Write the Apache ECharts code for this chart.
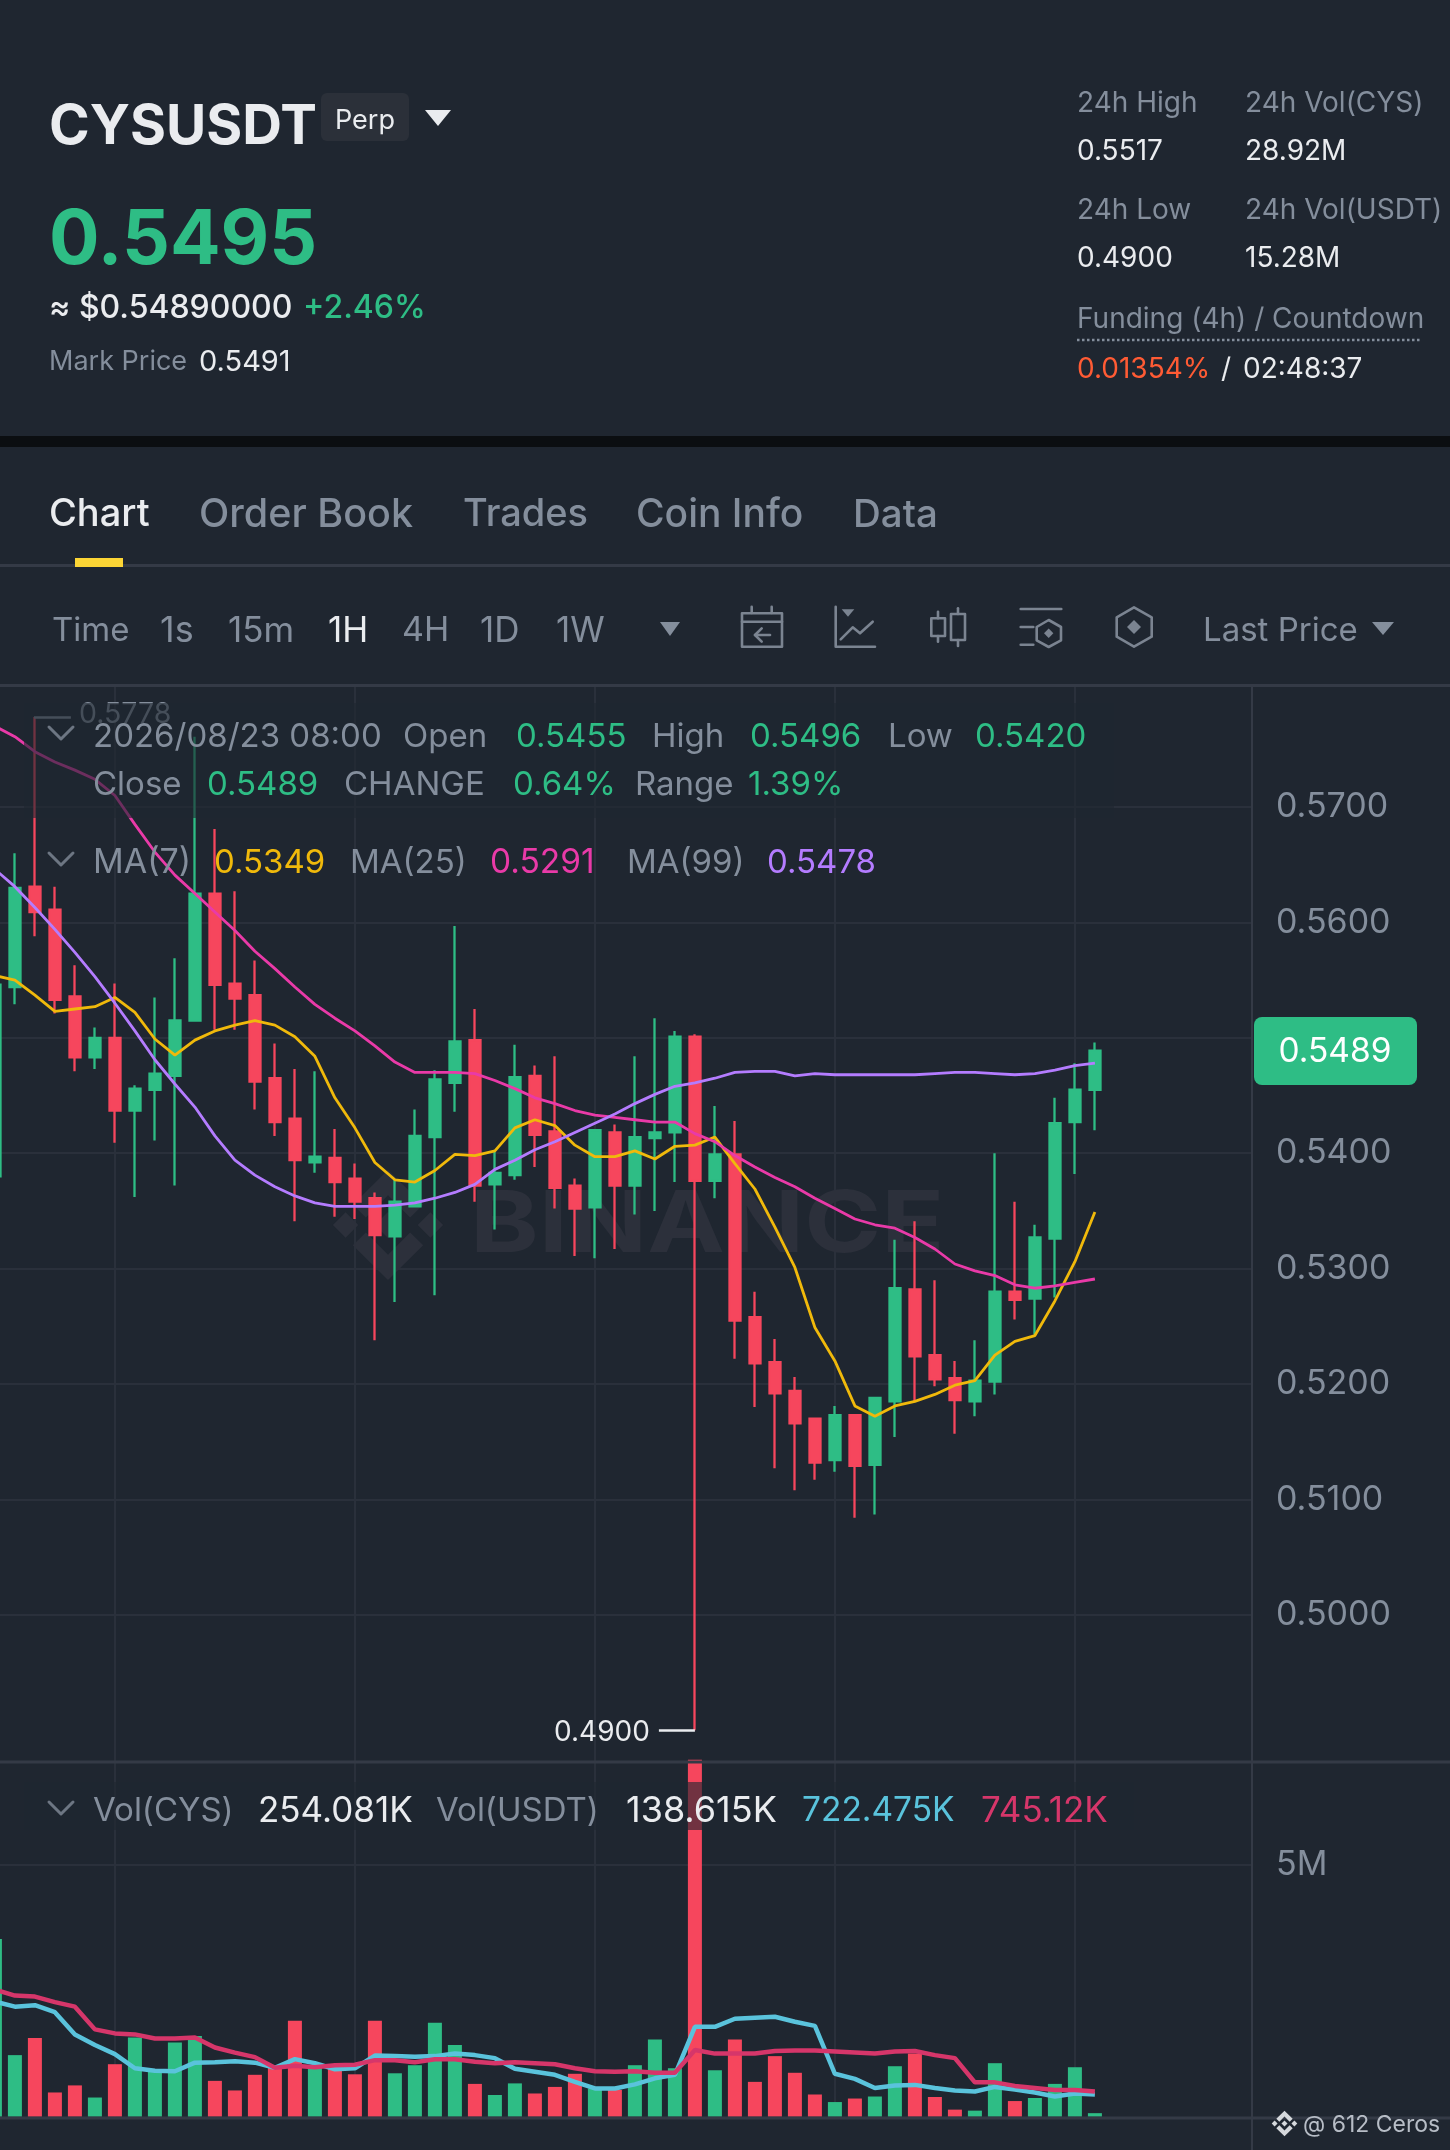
<!DOCTYPE html>
<html>
<head>
<meta charset="utf-8">
<title>CYSUSDT Perp</title>
<script src="https://cdn.jsdelivr.net/npm/echarts@6/dist/echarts.min.js"></script>
<style>html,body{margin:0;padding:0;background:#1f2630}#c{width:1450px;height:2150px}</style>
</head>
<body>
<div id="c"></div>
<script>
const opens  = [.5380,.5544,.5631,.5611,.5536,.5483,.5500,.5437,.5455,.5467,.5515,.5625,.5547,.5537,.5465,.5430,.5392,.5396,.5378,.5361,.5328,.5354,.5414,.5461,.5498,.5373,.5381,.5467,.5419,.5372,.5353,.5418,.5372,.5413,.5418,.5501,.5376,.5399,.5258,.5219,.5194,.5170,.5134,.5173,.5130,.5185,.5282,.5225,.5205,.5185,.5202,.5280,.5274,.5326,.5427,.5455];
const closes = [.5546,.5630,.5609,.5533,.5483,.5500,.5437,.5456,.5469,.5515,.5625,.5546,.5534,.5462,.5427,.5394,.5397,.5375,.5358,.5329,.5358,.5415,.5464,.5497,.5372,.5383,.5466,.5416,.5370,.5352,.5420,.5372,.5414,.5418,.5501,.5376,.5399,.5255,.5218,.5192,.5166,.5132,.5173,.5129,.5188,.5283,.5224,.5204,.5186,.5203,.5280,.5273,.5327,.5426,.5455,.5489];
const lows   = [.5380,.5529,.5588,.5521,.5471,.5473,.5409,.5362,.5411,.5372,.5515,.5507,.5507,.5438,.5415,.5341,.5383,.5345,.5343,.5238,.5271,.5354,.5277,.5436,.5358,.5334,.5377,.5388,.5352,.5311,.5309,.5317,.5347,.5350,.5375,.4900,.5361,.5222,.5180,.5127,.5108,.5117,.5124,.5084,.5087,.5154,.5185,.5198,.5157,.5172,.5191,.5256,.5243,.5275,.5382,.5420];
const highs  = [.5546,.5660,.5778,.5631,.5563,.5509,.5547,.5459,.5535,.5569,.5761,.5681,.5627,.5567,.5495,.5473,.5471,.5421,.5391,.5366,.5377,.5438,.5472,.5597,.5525,.5401,.5494,.5476,.5484,.5378,.5420,.5425,.5484,.5517,.5506,.5503,.5441,.5428,.5280,.5239,.5206,.5170,.5181,.5173,.5189,.5325,.5341,.5290,.5220,.5238,.5400,.5358,.5338,.5448,.5478,.5496];
const ma7    = [.5554,.5550,.5537,.5523,.5525,.5527,.5535,.5522,.5499,.5485,.5498,.5506,.5511,.5515,.5511,.5501,.5484,.5448,.5422,.5392,.5377,.5375,.5385,.5399,.5398,.5402,.5422,.5429,.5424,.5407,.5397,.5397,.5402,.5395,.5406,.5407,.5414,.5391,.5369,.5336,.5301,.5249,.5220,.5181,.5172,.5181,.5185,.5191,.5199,.5203,.5225,.5237,.5242,.5272,.5306,.5349];
const ma25   = [.5770,.5761,.5748,.5739,.5732,.5724,.5710,.5685,.5661,.5641,.5625,.5609,.5593,.5575,.5560,.5544,.5529,.5517,.5506,.5493,.5479,.5470,.5470,.5470,.5469,.5463,.5456,.5448,.5443,.5437,.5433,.5431,.5429,.5427,.5427,.5417,.5410,.5398,.5388,.5379,.5371,.5361,.5352,.5343,.5338,.5335,.5327,.5317,.5304,.5298,.5294,.5286,.5283,.5285,.5288,.5291];
const ma99   = [.5646,.5631,.5613,.5594,.5574,.5553,.5530,.5506,.5481,.5460,.5440,.5415,.5394,.5381,.5371,.5363,.5357,.5354,.5354,.5354,.5355,.5357,.5361,.5366,.5373,.5386,.5394,.5403,.5410,.5418,.5426,.5434,.5443,.5451,.5458,.5461,.5465,.5470,.5471,.5471,.5467,.5469,.5468,.5468,.5468,.5468,.5468,.5469,.5470,.5470,.5469,.5468,.5469,.5472,.5476,.5478];
const volumes = [3.52,1.22,1.56,.48,.62,.38,1.04,1.57,.92,1.47,1.60,.71,.52,.83,.99,1.90,.99,.96,.84,1.90,.86,1.02,1.86,1.42,.65,.43,.66,.46,.59,.85,.56,.53,1.02,1.53,.96,7.07,.92,1.53,.69,1.20,.87,.44,.29,.36,.40,1.00,1.25,.39,.14,.12,1.06,.31,.37,.65,.98,.07];
const volMaBlue = [2.28,2.18,2.21,2.07,1.63,1.42,1.24,.96,.91,.90,1.07,1.08,1.10,1.07,.97,1.14,1.06,.94,.96,1.21,1.20,1.19,1.20,1.25,1.22,1.16,.95,.89,.83,.69,.56,.56,.64,.76,.83,1.78,1.78,1.94,1.96,1.98,1.88,1.80,.85,.75,.57,.62,.63,.57,.52,.50,.59,.54,.48,.40,.46,.44];
const volMaRed  = [2.52,2.40,2.38,2.27,2.18,1.73,1.65,1.63,1.55,1.55,1.57,1.37,1.27,1.18,.97,1.01,.98,1.02,1.03,1.12,1.12,1.08,1.14,1.14,1.09,1.06,1.08,1.06,1.04,.96,.90,.89,.90,.87,.87,1.32,1.25,1.25,1.25,1.30,1.31,1.31,1.29,1.27,1.25,1.29,1.30,1.22,1.16,.68,.68,.61,.57,.53,.53,.50];
const priceTicks = [.50,.51,.52,.53,.54,.55,.56,.57];
const volumeTicks = [5];
const verticalTicks = [6,18,30,42,54];
const highMark = .5778, highIndex = 2, lowMark = .4900, lowIndex = 35;

const BG='#1f2630', GREEN='#2ebd85', RED='#f6465d', GRAY='#848e9c', WHITE='#eaecef', GRID='#2a303b', SEP='#343a46';
const FONT='Inter';
const chart = echarts.init(document.getElementById('c'),null,{renderer:'canvas',width:1450,height:2150});

const xy = a => a.map((v,i)=>[i,v]);
const candles = opens.map((o,i)=>[i,o,closes[i],lows[i],highs[i]]);
const bars = volumes.map((v,i)=>({value:[i,v],itemStyle:{color:closes[i]>=opens[i]?GREEN:RED}}));

function t(x,y,text,size,fill,weight,align,z){
  return {type:'text',z:z||60,style:{x,y,text,fill,font:(weight||400)+' '+size+'px '+FONT,textAlign:align||'left',textVerticalAlign:'middle'}};
}
function r(x,y,w,h,fill,z,rad){
  return {type:'rect',z:z||40,shape:{x,y,width:w,height:h,r:rad||0},style:{fill}};
}
function pl(points,stroke,lw,z){
  return {type:'polyline',z:z||60,shape:{points},style:{stroke,fill:null,lineWidth:lw||2.6,lineCap:'round',lineJoin:'round'}};
}
function pg(points,fill,z){
  return {type:'polygon',z:z||60,shape:{points},style:{fill}};
}
function ps(points,stroke,lw,z){
  return {type:'polygon',z:z||60,shape:{points},style:{stroke,fill:null,lineWidth:lw||2.6,lineJoin:'round'}};
}
function chevron(x,y){ return pl([[x,y],[x+12,y+12],[x+24,y]],'#6d7683',3); }
const LOGO_POLYS=[
  [[9.9,13.9],[16,7.8],[22.1,13.9],[25.7,10.4],[16,.8],[6.3,10.4]],
  [[.8,16],[4.3,12.5],[7.8,16],[4.3,19.5]],
  [[9.9,18.1],[16,24.2],[22.1,18.1],[25.7,21.6],[16,31.2],[6.3,21.6]],
  [[24.2,16],[27.7,12.5],[31.2,16],[27.7,19.5]],
  [[19.6,16],[16,12.4],[12.4,16],[16,19.6]]
];
function logo(x,y,size,fill,z){
  return LOGO_POLYS.map(q=>pg(q.map(a=>[x+a[0]*size/32,y+a[1]*size/32]),fill,z));
}
const ICON='#7b8491';

const g = [
  // header
  t(49,127,'CYSUSDT',55,WHITE,700),
  r(321,93,88,48,'#2b3039',40,6),
  t(365,121,'Perp',27,WHITE,400,'center'),
  pg([[425,110],[451,110],[438,126]],WHITE),
  t(49,241,'0.5495',75,GREEN,700),
  t(49,308,'≈ $0.54890000',32,WHITE,500),
  t(303,308,'+2.46%',32,GREEN,500),
  t(49,362,'Mark Price',27,GRAY),
  t(199,362,'0.5491',29,WHITE),
  t(1077,104,'24h High',28,GRAY), t(1245,104,'24h Vol(CYS)',28,GRAY),
  t(1077,152,'0.5517',28,WHITE), t(1245,152,'28.92M',28,WHITE),
  t(1077,211,'24h Low',28,GRAY), t(1245,211,'24h Vol(USDT)',28,GRAY),
  t(1077,259,'0.4900',28,WHITE), t(1245,259,'15.28M',28,WHITE),
  t(1077,320,'Funding (4h) / Countdown',28,GRAY),
  {type:'line',z:60,shape:{x1:1077,y1:340,x2:1421,y2:340},style:{stroke:GRAY,lineWidth:2.5,lineDash:[2.5,2.5]}},
  t(1077,370,'0.01354%',28,'#ff5b34'), t(1221,370,'/',28,WHITE), t(1243,370,'02:48:37',28,WHITE),
  r(0,436,1450,11,'#0b0e11'),
  // tabs
  t(49,515,'Chart',38,WHITE,500),
  t(199,515,'Order Book',39.5,GRAY,500), t(463,515,'Trades',38,GRAY,500),
  t(636,515,'Coin Info',39,GRAY,500), t(853,515,'Data',38.5,GRAY,500),
  r(0,564,1450,3,SEP),
  r(75,558,48,9,'#fcd535',41),
  // toolbar
  t(52,631,'Time',33,GRAY), t(160,631,'1s',36,GRAY), t(228,631,'15m',35,GRAY),
  t(328,631,'1H',35,WHITE), t(402,631,'4H',34,GRAY), t(480,631,'1D',35,GRAY), t(556,631,'1W',35,GRAY),
  pg([[660,622],[680,622],[670,636]],GRAY),
  ps([[742,613.3],[782,613.3],[782,646.7],[742,646.7]],ICON),
  pl([[742,621.7],[782,621.7]],ICON), pl([[751.7,606.7],[751.7,613]],ICON), pl([[771.7,606.7],[771.7,613]],ICON),
  pl([[770,635],[755,635]],ICON), pl([[761.7,628.3],[755,635],[761.7,641.7]],ICON),
  pl([[835.7,606.7],[835.7,646.7],[875,646.7]],ICON), pl([[840.7,639.3],[852.7,627.3],[860,633.3],[872.7,621.7]],ICON),
  pg([[841.7,609.3],[854.3,609.3],[848,616.7]],ICON),
  ps([[931.3,618.3],[945,618.3],[945,636],[931.3,636]],ICON),
  pl([[938,611.7],[938,618.3]],ICON), pl([[938,636],[938,641.7]],ICON),
  ps([[951,614],[965,614],[965,640],[951,640]],ICON),
  pl([[958,608.3],[958,614]],ICON), pl([[958,640],[958,646]],ICON),
  pl([[1020.7,609],[1061.3,609]],ICON), pl([[1020.7,627],[1033.3,627]],ICON), pl([[1020.7,644.7],[1033.3,644.7]],ICON),
  ps([[1048.7,620],[1061,627],[1061,640.3],[1048.7,647],[1036.7,640.3],[1036.7,627]],ICON),
  pg([[1048.7,628.6],[1053.4,633.3],[1048.7,638],[1044,633.3]],ICON),
  ps([[1134,607.3],[1151.7,617.3],[1151.7,636.7],[1134,646.7],[1116.7,636.7],[1116.7,617.3]],ICON),
  pg([[1134,620],[1141,627],[1134,634],[1127,627]],ICON),
  t(1203,631,'Last Price',33,GRAY),
  pg([[1372,622],[1394,622],[1383,635]],GRAY),
  // frame
  r(0,684,1450,3,SEP),
  r(0,1760.5,1450,3,SEP,45),
  r(0,2116.5,1450,3,SEP,45),
  r(1251,686,2,1464,SEP,45),
  // watermark
  ...logo(330,1167,116,'#2c303b',1),
  {type:'text',z:1,originX:470,originY:1226,scaleY:.82,style:{x:470,y:1226,text:'BINANCE',fill:'#2c303b',font:'700 104px '+FONT,textAlign:'left',textVerticalAlign:'middle'}},
  // legend scrims
  r(24,703,1090,115,'rgba(31,38,48,0.62)',50),
  r(24,1782,1110,48,'rgba(31,38,48,0.62)',50),
  // legend rows
  chevron(49,727),
  t(93,737,'2026/08/23 08:00',33,GRAY), t(403,737,'Open',33,GRAY), t(516,737,'0.5455',33,GREEN),
  t(652,737,'High',33,GRAY), t(750,737,'0.5496',33,GREEN), t(888,737,'Low',33,GRAY), t(975,737,'0.5420',33,GREEN),
  t(93,785,'Close',33,GRAY), t(207,785,'0.5489',33,GREEN), t(344,785,'CHANGE',33,GRAY), t(513,785,'0.64%',33,GREEN),
  t(635,785,'Range',33,GRAY), t(748,785,'1.39%',33,GREEN),
  chevron(49,853),
  t(93,863,'MA(7)',34,GRAY), t(214,863,'0.5349',33,'#f0b90b'), t(350,863,'MA(25)',33,GRAY), t(490,863,'0.5291',33.5,'#e93aa8'),
  t(627,863,'MA(99)',33,GRAY), t(767,863,'0.5478',33,'#b47cff'),
  chevron(49,1802),
  t(93,1811,'Vol(CYS)',33,GRAY), t(258,1811,'254.081K',35,WHITE), t(436,1811,'Vol(USDT)',33,GRAY),
  t(626,1811,'138.615K',36,WHITE), t(802,1811,'722.475K',33.5,'#5ac3dc'), t(981,1811,'745.12K',35,'#d6366a'),
  // last price tag
  r(1254,1017,163,68,GREEN,60,8),
  t(1335,1052,'0.5489',33.5,'#ffffff',400,'center',61),
  // footer watermark
  ...logo(1271,2110,27,'#d5d8dc',60),
  t(1303,2125,'@ 612 Ceros',23,'#b7bdc6'),
];

const xBase = {type:'value',min:.255,max:62.855,axisLine:{show:false},axisLabel:{show:false},
  axisTick:{show:false,customValues:verticalTicks},splitLine:{show:true,lineStyle:{color:GRID,width:2}}};

chart.setOption({
  animation:false,
  backgroundColor:BG,
  textStyle:{fontFamily:FONT},
  graphic:{elements:g},
  grid:[
    {left:0,width:1252,top:686,height:1075},
    {left:0,width:1252,top:1759.5,height:357.2}
  ],
  xAxis:[Object.assign({gridIndex:0},xBase),Object.assign({gridIndex:1},xBase)],
  yAxis:[
    {gridIndex:0,position:'right',min:.48733,max:.58049,scale:true,axisLine:{show:false},
      axisTick:{show:false,customValues:priceTicks},
      axisLabel:{customValues:priceTicks,color:GRAY,fontSize:34,margin:24,align:'left',fontFamily:FONT,formatter:v=>v.toFixed(4)},
      splitLine:{show:true,lineStyle:{color:GRID,width:2}}},
    {gridIndex:1,position:'right',min:0,max:7.076,axisLine:{show:false},
      axisTick:{show:false,customValues:volumeTicks},
      axisLabel:{customValues:volumeTicks,color:GRAY,fontSize:34,margin:24,align:'left',fontFamily:FONT,formatter:v=>v+'M'},
      splitLine:{show:true,lineStyle:{color:GRID,width:2}}}
  ],
  series:[
    {name:'Price',type:'candlestick',xAxisIndex:0,yAxisIndex:0,barWidth:11.6,z:3,data:candles,
      itemStyle:{color:GREEN,color0:RED,borderColor:GREEN,borderColor0:RED,borderWidth:2.3},
      markLine:{silent:true,symbol:'none',animation:false,label:{show:false},
        data:[
          [{coord:[1.955,highMark],lineStyle:{color:GRAY,width:2.5,type:'solid'}},{coord:[3.8,highMark]}],
          [{coord:[33.2,lowMark],lineStyle:{color:WHITE,width:2.5,type:'solid'}},{coord:[lowIndex,lowMark]}]
        ]},
      markPoint:{silent:true,symbol:'circle',symbolSize:0,animation:false,
        data:[
          {coord:[4.2,highMark],label:{show:true,position:'right',distance:0,offset:[0,-3],formatter:highMark.toFixed(4),color:GRAY,fontSize:28.5,fontFamily:FONT}},
          {coord:[32.75,lowMark],label:{show:true,position:'left',distance:0,offset:[0,2],formatter:lowMark.toFixed(4),color:WHITE,fontSize:28,fontFamily:FONT}}
        ]}},
    {name:'MA(7)',type:'line',xAxisIndex:0,yAxisIndex:0,data:xy(ma7),showSymbol:false,z:4,lineStyle:{color:'#f0b90b',width:2.8}},
    {name:'MA(25)',type:'line',xAxisIndex:0,yAxisIndex:0,data:xy(ma25),showSymbol:false,z:4,lineStyle:{color:'#e93aa8',width:2.8}},
    {name:'MA(99)',type:'line',xAxisIndex:0,yAxisIndex:0,data:xy(ma99),showSymbol:false,z:4,lineStyle:{color:'#b47cff',width:2.8}},
    {name:'Vol',type:'bar',xAxisIndex:1,yAxisIndex:1,barWidth:14,data:bars,z:3},
    {name:'Vol MA7',type:'line',xAxisIndex:1,yAxisIndex:1,data:xy(volMaBlue),showSymbol:false,z:4,lineStyle:{color:'#5ac3dc',width:4.5}},
    {name:'Vol MA25',type:'line',xAxisIndex:1,yAxisIndex:1,data:xy(volMaRed),showSymbol:false,z:5,lineStyle:{color:'#d6366a',width:4.5}}
  ]
});
</script>
</body>
</html>
